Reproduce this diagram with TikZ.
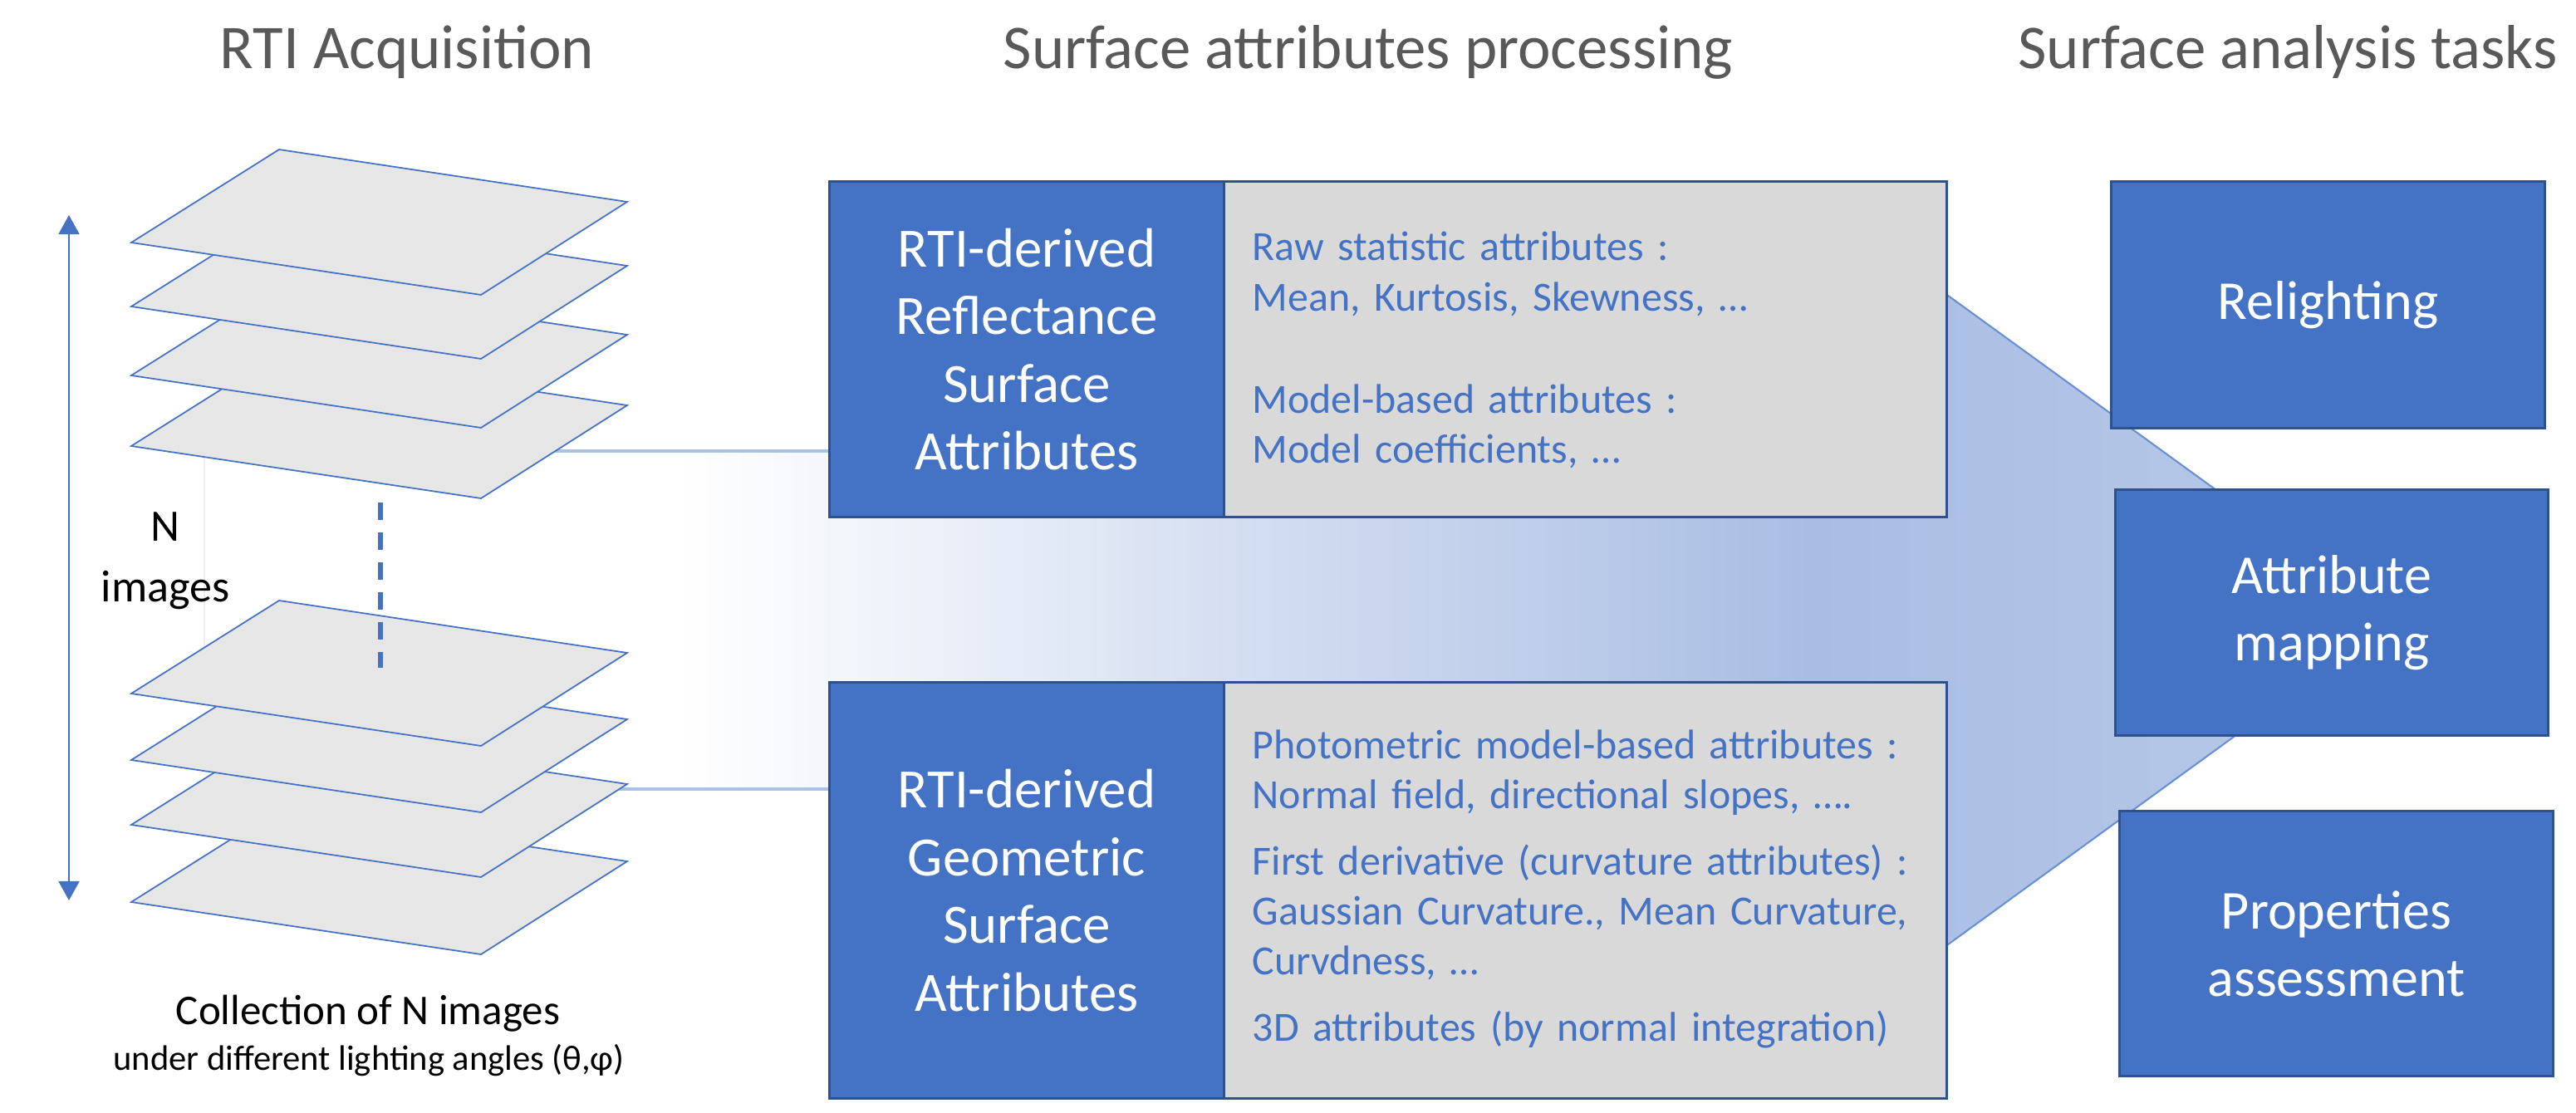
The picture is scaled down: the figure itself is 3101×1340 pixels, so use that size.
\documentclass[tikz,border=0pt]{standalone}
\usepackage{fontspec}
\setmainfont{Carlito}
\usetikzlibrary{arrows.meta}
\definecolor{accent}{HTML}{4472C4}
\definecolor{edgeblue}{HTML}{2F528F}
\definecolor{panelgray}{HTML}{D9D9D9}
\definecolor{plategray}{HTML}{E7E6E6}
\definecolor{headgray}{HTML}{595959}
\definecolor{fanblue}{HTML}{A9BDE3}
\definecolor{fanlight}{HTML}{B8CAE9}
\definecolor{bodyline}{HTML}{ABC1E6}
\definecolor{fanedge}{HTML}{6A90D4}
\definecolor{faintgray}{HTML}{EDEDED}
\pgfdeclarehorizontalshading{fanshade}{100bp}{color(0bp)=(white); color(29.8bp)=(white); color(59.6bp)=(fanblue); color(75bp)=(fanlight); color(100bp)=(fanlight)}
\newcommand\drawplate[1]{\draw[plate] (158,#1) -- ++(178,-112) -- ++(419,63) -- ++(-176,112) -- cycle;}
\begin{document}
\begin{tikzpicture}[x=0.01cm, y=-0.01cm,
  heading/.style={font=\fontsize{21.3}{25}\selectfont, text=headgray, anchor=base, inner sep=0pt},
  plate/.style={fill=plategray, draw=accent, line width=0.5pt, line join=miter},
  bluebox/.style={draw=edgeblue, fill=accent, line width=0.85pt, text=white, align=center, inner sep=0pt, font=\fontsize{19}{23.2}\selectfont},
  graybox/.style={draw=edgeblue, fill=panelgray, line width=0.85pt, inner sep=0pt},
  infotext/.style={anchor=base west, text=accent, align=left, text width=8.3cm, inner sep=0pt, font=\fontsize{14.2}{17.1}\selectfont},
  taskbox/.style={draw=edgeblue, fill=accent, line width=0.85pt, text=white, align=center, inner sep=0pt, font=\fontsize{18.8}{23.1}\selectfont},
  captext/.style={anchor=base, inner sep=0pt, text=black},
  fanbody/.style={draw=bodyline, line width=1.1pt},
  fanhead/.style={draw=fanedge, line width=0.6pt},
  countarrow/.style={draw=accent, line width=0.55pt, {Triangle[length=0.23cm, width=0.25cm]}-{Triangle[length=0.23cm, width=0.25cm]}},
  gapline/.style={draw=accent, line width=1.7pt, dash pattern=on 0.21cm off 0.15cm}
]
\useasboundingbox (0,0) rectangle (3101,1340);

% headings
\node[heading] (h1) at (490,83) {RTI Acquisition};
\node[heading] (h2) at (1647,83) {Surface attributes processing};
\node[heading] (h3) at (2754,83) {Surface analysis tasks};

% gradient arrow shape
\shade[shading=fanshade] (600,543) -- (2330,543) -- (2330,345) -- (2883,746) -- (2330,1148) -- (2330,950) -- (600,950) -- cycle;
\coordinate (bodyTL) at (600,543);
\coordinate (bodyTR) at (2330,543);
\coordinate (bodyBL) at (600,950);
\coordinate (bodyBR) at (2330,950);
\coordinate (headT) at (2330,345);
\coordinate (headB) at (2330,1148);
\coordinate (tip) at (2883,746);
\draw[fanbody] (bodyTL) -- (bodyTR);
\draw[fanbody] (bodyBL) -- (bodyBR);
\draw[fanhead] (headT) -- (tip) -- (headB);

% faint text box border
\coordinate (fa) at (246,500);
\coordinate (fb) at (246,820);
\draw[faintgray, line width=0.3pt] (fa) -- (fb);

% plate stacks (bottom first)
\drawplate{537}
\drawplate{452}
\drawplate{369}
\drawplate{292}
\drawplate{1086}
\drawplate{993}
\drawplate{915}
\drawplate{835}

% dashed gap line
\coordinate (ga) at (458,605);
\coordinate (gb) at (458,804);
\draw[gapline] (ga) -- (gb);

% N images arrow
\coordinate (atop) at (83,259);
\coordinate (abot) at (83,1084);
\draw[countarrow] (atop) -- (abot);

\node[anchor=base, align=center, text width=3cm, inner sep=0pt, font=\fontsize{15.4}{20.8}\selectfont] (nimg) at (199,651) {N\\images};

\node[captext, font=\fontsize{14.5}{17}\selectfont] (cap1) at (443,1233) {Collection of N images};
\node[captext, font=\fontsize{12.1}{15}\selectfont] (cap2) at (444,1288) {under different lighting angles (θ,φ)};

% middle boxes
\node[graybox, minimum width=8.70cm, minimum height=4.03cm] (reflinfo) at (1908,420.5) {};
\node[bluebox, minimum width=4.74cm, minimum height=4.03cm] (refl) at (1236,420.5) {RTI-derived\\Reflectance\\Surface\\Attributes};
\node[infotext] (refltext) at (1507,314) {Raw statistic attributes :\\Mean, Kurtosis, Skewness, …\\[17.9pt]Model-based attributes :\\Model coefficients, …};

\node[graybox, minimum width=8.70cm, minimum height=5.00cm] (geominfo) at (1908,1072) {};
\node[bluebox, minimum width=4.74cm, minimum height=5.00cm] (geom) at (1236,1072) {RTI-derived\\Geometric\\Surface\\Attributes};
\node[infotext] (geomtext) at (1507,913) {Photometric model-based attributes :\\Normal field, directional slopes, ….\\[5.7pt]First derivative (curvature attributes) :\\Gaussian Curvature., Mean Curvature,\\Curvdness, …\\[5.7pt]3D attributes (by normal integration)};

% task boxes
\node[taskbox, minimum width=5.21cm, minimum height=2.96cm] (relight) at (2802.5,367) {Relighting};
\node[taskbox, minimum width=5.20cm, minimum height=2.95cm] (attrmap) at (2807,737.5) {Attribute\\mapping};
\node[taskbox, minimum width=5.21cm, minimum height=3.18cm] (props) at (2812.5,1136) {Properties\\assessment};
\end{tikzpicture}
\end{document}
